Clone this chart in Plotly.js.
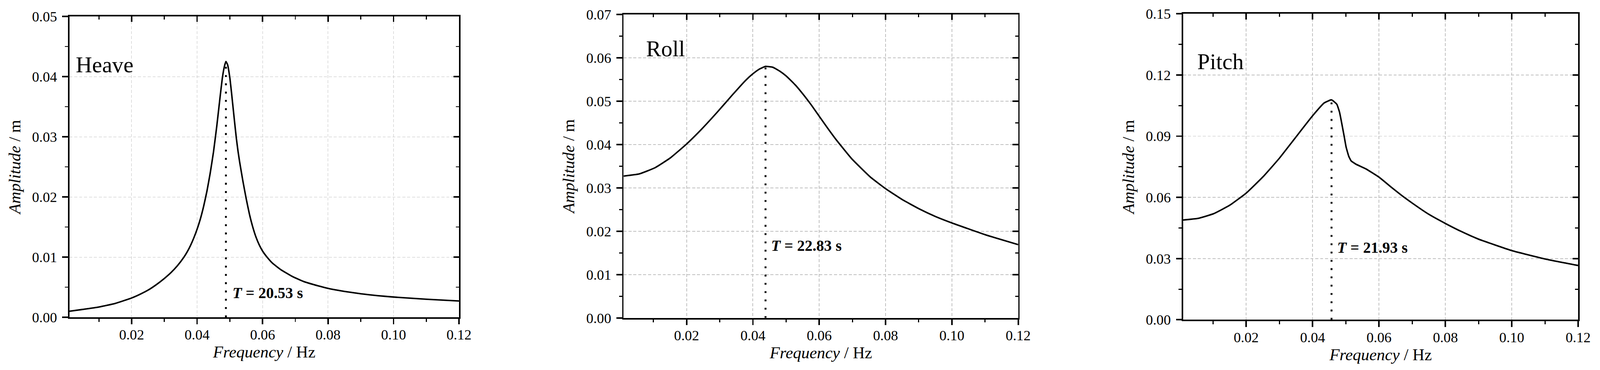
<!DOCTYPE html>
<html>
<head>
<meta charset="utf-8">
<script src="https://cdn.plot.ly/plotly-3.0.1.min.js"></script>
<style>
html,body{margin:0;padding:0;background:#ffffff;overflow:hidden;}
#chart{width:100vw;height:100vh;}
</style>
</head>
<body>
<div id="chart"></div>
<script>
// ---------------- data ----------------
const panelNames = ['Heave', 'Roll', 'Pitch'];

const heaveFreq = [0.001,0.005,0.010,0.015,0.020,0.0225,0.025,0.0275,0.030,0.032,0.034,0.036,0.037,0.038,0.039,0.040,0.041,0.042,0.043,0.044,0.045,0.046,0.047,0.0477,0.0483,0.0488,0.0493,0.0500,0.0505,0.0510,0.0515,0.0520,0.0525,0.0530,0.0540,0.0550,0.0560,0.0570,0.0580,0.0590,0.0600,0.0615,0.0630,0.0656,0.0690,0.0725,0.0771,0.0800,0.0850,0.0900,0.0950,0.1000,0.1100,0.1200];
const heaveAmp  = [0.00100,0.00130,0.00170,0.00230,0.00320,0.00380,0.00450,0.00540,0.00645,0.00741,0.00857,0.01001,0.01089,0.01194,0.01319,0.01464,0.01634,0.01844,0.02094,0.02394,0.02744,0.03170,0.03650,0.03970,0.04160,0.04250,0.04200,0.03980,0.03740,0.03480,0.03220,0.02970,0.02760,0.02580,0.02260,0.01970,0.01710,0.01500,0.01330,0.01200,0.01100,0.00990,0.00900,0.00790,0.00680,0.00595,0.00520,0.00480,0.00430,0.00390,0.00360,0.00336,0.00300,0.00270];

const rollFreq = [0.001,0.0057,0.0104,0.0151,0.020,0.0245,0.0292,0.0339,0.0377,0.040,0.042,0.0438,0.046,0.0481,0.050,0.0528,0.0552,0.0576,0.060,0.0625,0.0651,0.0698,0.0754,0.080,0.085,0.090,0.095,0.100,0.110,0.120];
const rollAmp  = [0.0327,0.0332,0.0346,0.0369,0.0401,0.0435,0.0474,0.0515,0.0547,0.0563,0.0574,0.0580,0.0578,0.0569,0.0558,0.0537,0.0515,0.0491,0.0465,0.0438,0.0411,0.0367,0.0325,0.0298,0.0273,0.0252,0.0234,0.0219,0.0192,0.0169];

const pitchFreq = [0.001,0.0055,0.0102,0.015,0.020,0.0253,0.030,0.0347,0.040,0.0435,0.0457,0.0473,0.0481,0.0488,0.0495,0.0501,0.0509,0.0516,0.0530,0.0560,0.0600,0.0636,0.0668,0.070,0.075,0.080,0.085,0.090,0.100,0.110,0.120];
const pitchAmp  = [0.0489,0.0497,0.0520,0.0561,0.0621,0.0705,0.0792,0.0890,0.1000,0.1063,0.1078,0.1056,0.1018,0.0961,0.0900,0.0846,0.0801,0.0779,0.0763,0.0740,0.0699,0.0651,0.0610,0.0572,0.0517,0.0472,0.0431,0.0395,0.0339,0.0298,0.0266];

// resonance (peak) marks
const peakFreq   = [0.0488, 0.0438, 0.0457];
const peakAmp    = [0.0425, 0.0580, 0.1078];
const peakPeriod = ['20.53', '22.83', '21.93'];

// axes ticks
const xTickVals  = [0.02, 0.04, 0.06, 0.08, 0.10, 0.12];
const xTickText  = ['0.02', '0.04', '0.06', '0.08', '0.10', '0.12'];
const xMinorVals = [0.01, 0.03, 0.05, 0.07, 0.09, 0.11];
const xRange = [0.001, 0.12];

const heaveYTicks = [0.00, 0.01, 0.02, 0.03, 0.04, 0.05];
const heaveYText  = ['0.00', '0.01', '0.02', '0.03', '0.04', '0.05'];
const heaveYMinor = [0.005, 0.015, 0.025, 0.035, 0.045];
const rollYTicks  = [0.00, 0.01, 0.02, 0.03, 0.04, 0.05, 0.06, 0.07];
const rollYText   = ['0.00', '0.01', '0.02', '0.03', '0.04', '0.05', '0.06', '0.07'];
const rollYMinor  = [0.005, 0.015, 0.025, 0.035, 0.045, 0.055, 0.065];
const pitchYTicks = [0.00, 0.03, 0.06, 0.09, 0.12, 0.15];
const pitchYText  = ['0.00', '0.03', '0.06', '0.09', '0.12', '0.15'];
const pitchYMinor = [0.015, 0.045, 0.075, 0.105, 0.135];

const xTitle = '<i>Frequency</i> / Hz';
const yTitle = '<i>Amplitude</i> / m';

// ---------------- styling / layout ----------------
const REF_W = 4249, REF_H = 947;
const W = window.innerWidth || REF_W;
const H = window.innerHeight || REF_H;
const k = Math.min(W / REF_W, H / REF_H);   // scale for pixel sizes
const px = v => v * k;

const FONT = 'Liberation Serif, "Times New Roman", serif';
const BLACK = '#000000';

const series = [
  {f: heaveFreq, a: heaveAmp, yt: heaveYTicks, ytt: heaveYText, ym: heaveYMinor, yr: [0, 0.05]},
  {f: rollFreq,  a: rollAmp,  yt: rollYTicks,  ytt: rollYText,  ym: rollYMinor,  yr: [0, 0.07]},
  {f: pitchFreq, a: pitchAmp, yt: pitchYTicks, ytt: pitchYText, ym: pitchYMinor, yr: [0, 0.15]}
];

// plot-area boxes in reference pixels
const boxX = [[184.3, 1219], [1656, 2704], [3142, 4191]];
const boxY = [[42, 812], [36.7, 813.7], [35.2, 818.4]];
const gridW = [1, 2, 2];

// label placement (data coords)
const nameLabelPos = [[0.0027, 0.0420], [0.0075, 0.0621], [0.0050, 0.1266]];
const periodLabelPos = [[0.0505, 0.00405], [0.0452, 0.01668], [0.0471, 0.0353]];

const traces = [];
const layout = {
  width: W, height: H,
  margin: {l: 0, r: 0, t: 0, b: 0},
  paper_bgcolor: '#ffffff',
  plot_bgcolor: '#ffffff',
  showlegend: false,
  font: {family: FONT, color: BLACK},
  annotations: []
};

function ax(n) { return n === 1 ? '' : String(n); }

series.forEach((s, i) => {
  const xm = i + 1, xo = i + 4;
  const dx = [boxX[i][0] / REF_W, boxX[i][1] / REF_W];
  const dy = [1 - boxY[i][1] / REF_H, 1 - boxY[i][0] / REF_H];

  traces.push({
    x: s.f, y: s.a, type: 'scatter', mode: 'lines',
    line: {color: BLACK, width: px(4), shape: 'spline', smoothing: 0.4},
    xaxis: 'x' + ax(xm), yaxis: 'y' + ax(xm), hoverinfo: 'x+y'
  });
  traces.push({
    x: [peakFreq[i], peakFreq[i]], y: [0, peakAmp[i]], type: 'scatter', mode: 'lines',
    line: {color: BLACK, width: px(5), dash: px(5) + 'px,' + px(17) + 'px'},
    xaxis: 'x' + ax(xm), yaxis: 'y' + ax(xm), hoverinfo: 'skip'
  });
  // empty trace to activate the mirrored (top/right) axes
  traces.push({
    x: [], y: [], type: 'scatter', mode: 'lines',
    xaxis: 'x' + xo, yaxis: 'y' + xo, hoverinfo: 'skip'
  });

  const tickFont = {family: FONT, size: px(38), color: BLACK};
  const titleFont = {family: FONT, size: px(44), color: BLACK};
  const dash = px(8) + 'px,' + px(5) + 'px';

  layout['xaxis' + ax(xm)] = {
    domain: dx, anchor: 'y' + ax(xm), range: xRange,
    tickmode: 'array', tickvals: xTickVals, ticktext: xTickText,
    ticks: 'outside', ticklen: px(15), tickwidth: px(4), tickcolor: BLACK,
    ticklabelstandoff: Math.round(px(-5)),
    showline: true, linewidth: px(4), linecolor: BLACK,
    showgrid: true, gridcolor: '#c0c0c0', gridwidth: px(gridW[i]), griddash: dash,
    zeroline: false, tickfont: tickFont, automargin: false,
    minor: {tickmode: 'array', tickvals: xMinorVals, ticks: 'outside', ticklen: px(8), tickwidth: px(3), tickcolor: BLACK, showgrid: false},
    title: {text: xTitle, font: titleFont, standoff: px(4)}
  };
  layout['yaxis' + ax(xm)] = {
    domain: dy, anchor: 'x' + ax(xm), range: s.yr,
    tickmode: 'array', tickvals: s.yt, ticktext: s.ytt,
    ticks: 'outside', ticklen: px(15), tickwidth: px(4), tickcolor: BLACK,
    ticklabelstandoff: Math.round(px(6)),
    showline: true, linewidth: px(4), linecolor: BLACK,
    showgrid: true, gridcolor: '#c0c0c0', gridwidth: px(gridW[i]), griddash: dash,
    zeroline: false, tickfont: tickFont, automargin: false,
    minor: {tickmode: 'array', tickvals: s.ym, ticks: 'outside', ticklen: px(8), tickwidth: px(3), tickcolor: BLACK, showgrid: false},
    title: {text: yTitle, font: titleFont, standoff: px(18)}
  };
  layout['xaxis' + xo] = {
    overlaying: 'x' + ax(xm), side: 'top', anchor: 'y' + xo, range: xRange,
    tickmode: 'array', tickvals: xTickVals, ticks: 'inside', ticklen: px(15), tickwidth: px(4), tickcolor: BLACK,
    showticklabels: false, showline: true, linewidth: px(4), linecolor: BLACK,
    showgrid: false, zeroline: false, automargin: false,
    minor: {tickmode: 'array', tickvals: xMinorVals, ticks: 'inside', ticklen: px(8), tickwidth: px(3), tickcolor: BLACK, showgrid: false}
  };
  layout['yaxis' + xo] = {
    overlaying: 'y' + ax(xm), side: 'right', anchor: 'x' + xo, range: s.yr,
    tickmode: 'array', tickvals: s.yt, ticks: 'inside', ticklen: px(15), tickwidth: px(4), tickcolor: BLACK,
    showticklabels: false, showline: true, linewidth: px(4), linecolor: BLACK,
    showgrid: false, zeroline: false, automargin: false,
    minor: {tickmode: 'array', tickvals: s.ym, ticks: 'inside', ticklen: px(8), tickwidth: px(3), tickcolor: BLACK, showgrid: false}
  };

  layout.annotations.push({
    xref: 'x' + ax(xm), yref: 'y' + ax(xm),
    x: nameLabelPos[i][0], y: nameLabelPos[i][1],
    xanchor: 'left', yanchor: 'middle', showarrow: false,
    text: panelNames[i], font: {family: FONT, size: px(60), color: BLACK}
  });
  layout.annotations.push({
    xref: 'x' + ax(xm), yref: 'y' + ax(xm),
    x: periodLabelPos[i][0], y: periodLabelPos[i][1],
    xanchor: 'left', yanchor: 'middle', showarrow: false,
    text: '<b><i>T</i> = ' + peakPeriod[i] + ' s</b>', font: {family: FONT, size: px(41), color: BLACK}
  });
});

Plotly.newPlot('chart', traces, layout, {staticPlot: true, displayModeBar: false});
</script>
</body>
</html>
